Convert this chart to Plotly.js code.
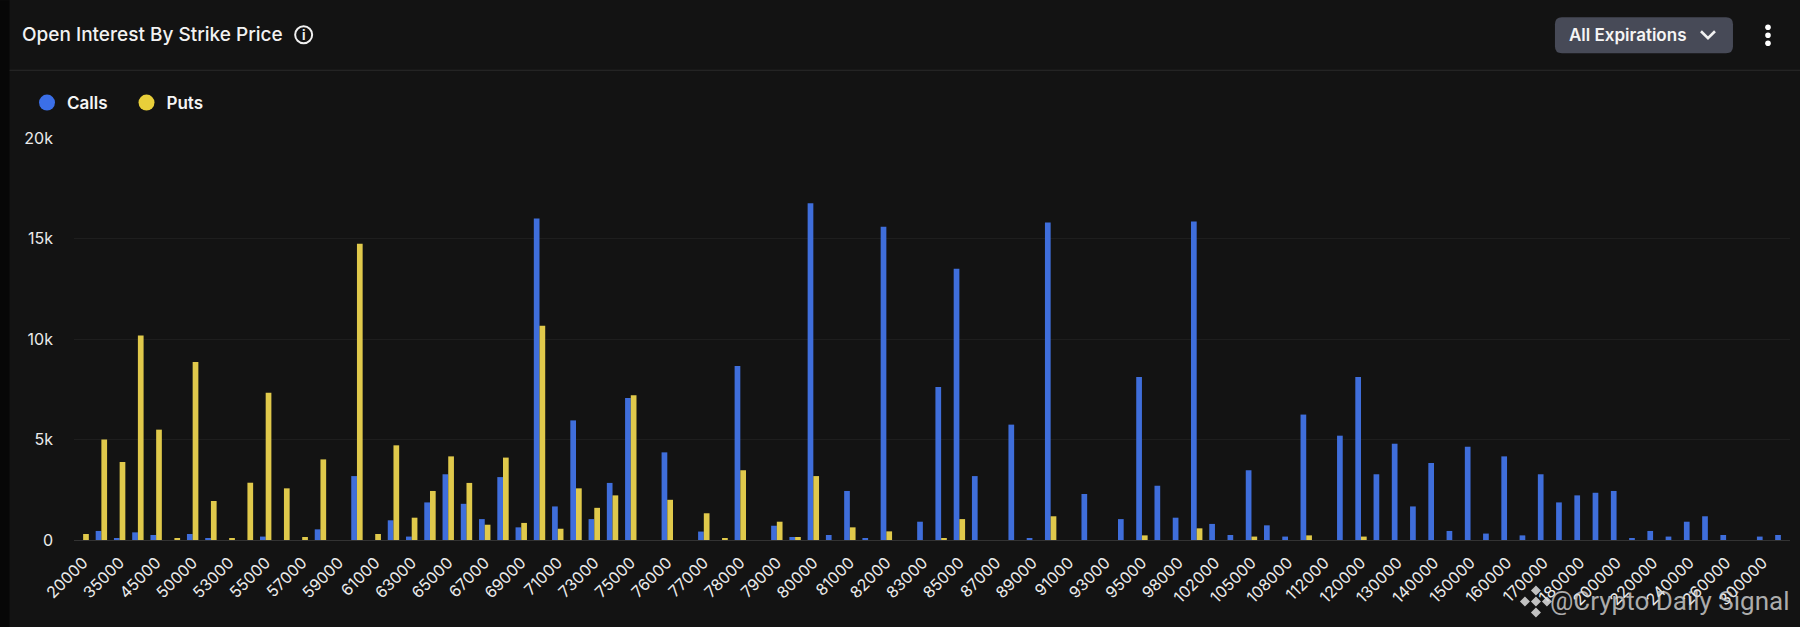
<!DOCTYPE html>
<html>
<head>
<meta charset="utf-8">
<script src="https://cdn.plot.ly/plotly-3.0.1.min.js"></script>
<style>html,body{margin:0;padding:0;background:#131313;overflow:hidden}</style>
</head>
<body>
<div id="chart" style="width:1800px;height:627px"></div>
<script>
const strikes = [20000,30000,35000,40000,45000,48000,50000,52000,53000,54000,55000,56000,57000,58000,59000,60000,61000,62000,63000,64000,65000,66000,67000,68000,69000,70000,71000,72000,73000,74000,75000,75500,76000,76500,77000,77500,78000,78500,79000,79500,80000,80500,81000,81500,82000,82500,83000,84000,85000,86000,87000,88000,89000,90000,91000,92000,93000,94000,95000,96000,98000,100000,102000,104000,105000,106000,108000,110000,112000,115000,120000,125000,130000,135000,140000,145000,150000,155000,160000,165000,170000,175000,180000,190000,200000,210000,220000,230000,240000,250000,260000,280000,300000,320000].map(String);
const calls = [0,450,100,380,250,0,300,80,0,0,170,0,0,530,0,3180,0,980,170,1870,3270,1800,1040,3130,630,16000,1670,5950,1040,2840,7060,0,4360,0,420,0,8660,0,710,150,16750,250,2440,100,15590,0,910,7610,13500,3180,0,5740,80,15790,0,2290,0,1040,8110,2700,1110,15840,800,250,3470,730,170,6240,0,5190,8110,3270,4790,1670,3830,450,4640,320,4160,230,3270,1870,2220,2350,2440,80,450,170,910,1180,250,0,170,250];
const puts = [300,5000,3880,10180,5490,100,8860,1940,80,2850,7330,2570,150,4010,0,14740,300,4710,1110,2440,4160,2840,760,4100,850,10660,560,2570,1600,2220,7200,0,2000,0,1330,80,3470,0,910,150,3180,0,630,0,430,0,0,100,1040,0,0,0,0,1180,0,0,0,0,230,0,0,580,0,0,170,0,0,230,0,0,170,0,0,0,0,0,0,0,0,0,0,0,0,0,0,0,0,0,0,0,0,0,0,0];
const tickLabels = ["20000","35000","45000","50000","53000","55000","57000","59000","61000","63000","65000","67000","69000","71000","73000","75000","76000","77000","78000","79000","80000","81000","82000","83000","85000","87000","89000","91000","93000","95000","98000","102000","105000","108000","112000","120000","130000","140000","150000","160000","170000","180000","200000","220000","240000","260000","300000"];
const yTicks = [0,5000,10000,15000,20000];
const yTickLabels = ["0","5k","10k","15k","20k"];

const W=1800,H=627,ML=74.4,MR=10,MT=137.7,MB=87.4;
const PW=W-ML-MR,PH=H-MT-MB;
const px=x=>(x-ML)/PW, py=y=>1-(y-MT)/PH;
const P=(pts,close=true)=>'M'+pts.map(p=>px(p[0])+','+py(p[1])).join('L')+(close?'Z':'');
const rect=(x0,y0,x1,y1,fill)=>({type:'rect',xref:'paper',yref:'paper',x0:px(x0),x1:px(x1),y0:py(y0),y1:py(y1),fillcolor:fill,line:{width:0},layer:'below'});
const circ=(cx,cy,r,fill,line)=>({type:'circle',xref:'paper',yref:'paper',x0:px(cx-r),x1:px(cx+r),y0:py(cy-r),y1:py(cy+r),fillcolor:fill,line:line||{width:0},layer:'above'});
const diamond=(cx,cy,r)=>({type:'path',xref:'paper',yref:'paper',path:P([[cx,cy-r],[cx+r,cy],[cx,cy+r],[cx-r,cy]]),fillcolor:'rgba(225,225,225,0.85)',line:{width:0},layer:'above'});
const roundRect=(x0,y0,x1,y1,r)=>{
  const X=px,Y=py;
  return 'M'+X(x0+r)+','+Y(y0)+'L'+X(x1-r)+','+Y(y0)+'Q'+X(x1)+','+Y(y0)+' '+X(x1)+','+Y(y0+r)+
  'L'+X(x1)+','+Y(y1-r)+'Q'+X(x1)+','+Y(y1)+' '+X(x1-r)+','+Y(y1)+'L'+X(x0+r)+','+Y(y1)+
  'Q'+X(x0)+','+Y(y1)+' '+X(x0)+','+Y(y1-r)+'L'+X(x0)+','+Y(y0+r)+'Q'+X(x0)+','+Y(y0)+' '+X(x0+r)+','+Y(y0)+'Z';
};

const CALL='#3f6edb',PUT='#e0c94b';
const FONT='Inter, "Noto Sans", sans-serif';
const traces=[
 {type:'bar',name:'Calls',x:strikes,y:calls,marker:{color:CALL},showlegend:false},
 {type:'bar',name:'Puts',x:strikes,y:puts,marker:{color:PUT},showlegend:false},
 {type:'scatter',mode:'markers',name:'Calls',x:[null],y:[null],marker:{color:'#3b6fe8',size:16,symbol:'circle'}},
 {type:'scatter',mode:'markers',name:'Puts',x:[null],y:[null],marker:{color:'#e8cf3a',size:16,symbol:'circle'}}
];
const layout={
 width:W,height:H,paper_bgcolor:'#131313',plot_bgcolor:'#131313',
 margin:{l:ML,r:MR,t:MT,b:MB,pad:0},
 font:{family:FONT,color:'#f0f0f0'},
 title:{text:'Open Interest By Strike Price',xref:'container',yref:'container',x:22/W,xanchor:'left',y:1-34/H,yanchor:'middle',font:{family:FONT,size:19,weight:500,color:'#f2f2f2'}},
 barmode:'group',bargap:0.375,bargroupgap:0,
 showlegend:true,
 legend:{orientation:'h',xref:'container',yref:'container',x:27/W,xanchor:'left',y:1-103/H,yanchor:'middle',font:{family:FONT,size:17,weight:600,color:'#f5f5f5'},bgcolor:'rgba(0,0,0,0)',entrywidth:54.5,entrywidthmode:'pixels',itemclick:false,itemdoubleclick:false},
 xaxis:{type:'category',categoryorder:'array',categoryarray:strikes,range:[-0.5,93.5],tickmode:'array',tickvals:tickLabels,ticktext:tickLabels,tickangle:-45,ticks:'',ticklabelstandoff:6,tickfont:{family:FONT,size:16,color:'#ebebeb'},showgrid:false,zeroline:false,showline:true,linecolor:'#333333',linewidth:1,automargin:false},
 yaxis:{range:[0,20000],tickmode:'array',tickvals:yTicks,ticktext:yTickLabels,ticks:'',ticklabelstandoff:20,tickfont:{family:FONT,size:16,color:'#ebebeb'},showgrid:true,gridcolor:'#1e1e1e',gridwidth:1,zeroline:false,showline:false,automargin:false},
 shapes:[
  rect(0,0,10,627,'#070707'),
  rect(10,69.5,1800,70.5,'#2b2b2b'),
  circ(304,34.5,8.5,'rgba(0,0,0,0)',{color:'#f0f0f0',width:2}),
  {type:'path',xref:'paper',yref:'paper',path:roundRect(1555,17,1733,53,7),fillcolor:'#474a57',line:{width:0},layer:'below'},
  {type:'path',xref:'paper',yref:'paper',path:P([[1701,31],[1708,38],[1715,31]],false),fillcolor:'rgba(0,0,0,0)',line:{color:'#f2f2f2',width:2.6},layer:'above'},
  circ(1768,27,2.8,'#ffffff'),circ(1768,35,2.8,'#ffffff'),circ(1768,43,2.8,'#ffffff'),
  diamond(1536,590,5),diamond(1536,612,5),diamond(1525,601,5),diamond(1547,601,5),diamond(1536,601,5)
 ],
 annotations:[
  {text:'<b>i</b>',xref:'paper',yref:'paper',x:px(304),y:py(34.5),xanchor:'center',yanchor:'middle',showarrow:false,font:{family:FONT,size:13,color:'#f0f0f0'}},
  {text:'All Expirations',xref:'paper',yref:'paper',x:px(1567),y:py(35),xanchor:'left',yanchor:'middle',showarrow:false,font:{family:FONT,size:17,weight:600,color:'#f5f5f5'}},
  {text:'@Crypto Daily Signal',xref:'paper',yref:'paper',x:px(1792),y:py(601),xanchor:'right',yanchor:'middle',showarrow:false,font:{family:'Roboto, sans-serif',size:26,color:'rgba(215,215,215,0.78)'}}
 ]
};
Plotly.newPlot('chart',traces,layout,{displayModeBar:false,responsive:false});
</script>
</body>
</html>
